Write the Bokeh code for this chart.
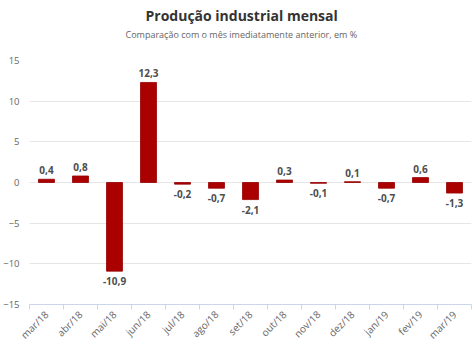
from math import pi
from bokeh.plotting import figure
from bokeh.models import Range1d, FixedTicker, Title, ColumnDataSource
from bokeh.core.properties import value
from bokeh.embed import file_html
from bokeh.resources import INLINE

months = ["mar/18", "abr/18", "mai/18", "jun/18", "jul/18", "ago/18", "set/18",
          "out/18", "nov/18", "dez/18", "jan/19", "fev/19", "mar/19"]
values = [0.4, 0.8, -10.9, 12.3, -0.2, -0.7, -2.1, 0.3, -0.1, 0.1, -0.7, 0.6, -1.3]
y_ticks = [-15, -10, -5, 0, 5, 10, 15]

FONT = "Open Sans"
x = list(range(len(months)))
labels = [f"{v:.1f}".replace(".", ",") for v in values]

src = ColumnDataSource(dict(x=x, v=values, lab=labels))
pos = ColumnDataSource(dict(x=[i for i, v in zip(x, values) if v >= 0],
                            v=[v for v in values if v >= 0],
                            lab=[l for l, v in zip(labels, values) if v >= 0]))
neg = ColumnDataSource(dict(x=[i for i, v in zip(x, values) if v < 0],
                            v=[v for v in values if v < 0],
                            lab=[l for l, v in zip(labels, values) if v < 0]))

W, H = 474, 349
p = figure(width=W, height=H, output_backend="svg", toolbar_location=None,
           title=None,
           x_range=Range1d(-0.5, len(months) - 0.5), y_range=Range1d(-15, 15),
           min_border_left=27, min_border_right=3, min_border_top=60,
           min_border_bottom=44)
p.outline_line_color = None
p.background_fill_color = "white"
p.border_fill_color = "white"

# spacer between the frame and the subtitle
p.add_layout(Title(text=" ", text_font=FONT, text_font_size="1px", standoff=17), "above")
p.add_layout(Title(text="Comparação com o mês imediatamente anterior, em %",
                   text_font=FONT, text_font_size="9px", text_font_style="normal",
                   text_color="#666666", align="left", offset=96, standoff=0), "above")
p.add_layout(Title(text="Produção industrial mensal",
                   text_font=FONT, text_font_size="14px", text_font_style="bold",
                   text_color="#333333", align="left", offset=116, standoff=2), "above")

p.vbar(x="x", top="v", bottom=0, width=0.47, source=src,
       fill_color="#ab0000", line_color="#950000", line_width=0.8)

p.text(x="x", y="v", text="lab", source=pos, text_font=value(FONT),
       text_font_size="10px", text_font_style="bold", text_color="#4d4d4d",
       text_align="center", text_baseline="bottom", y_offset=-5)
p.text(x="x", y="v", text="lab", source=neg, text_font=value(FONT),
       text_font_size="10px", text_font_style="bold", text_color="#4d4d4d",
       text_align="center", text_baseline="top", y_offset=6)

p.xgrid.grid_line_color = None
p.ygrid.ticker = FixedTicker(ticks=y_ticks)
p.ygrid.grid_line_color = "#e6e6e6"

p.yaxis.ticker = FixedTicker(ticks=y_ticks)
p.yaxis.axis_line_color = None
p.yaxis.major_tick_line_color = None
p.yaxis.major_tick_in = 0
p.yaxis.major_tick_out = 0
p.yaxis.minor_tick_line_color = None
p.yaxis.major_label_text_font = FONT
p.yaxis.major_label_text_font_size = "9.5px"
p.yaxis.major_label_text_color = "#666666"
p.yaxis.major_label_standoff = 10

p.xaxis.ticker = FixedTicker(ticks=x, minor_ticks=[i - 0.5 for i in range(len(months) + 1)])
p.xaxis.major_label_overrides = {i: m for i, m in zip(x, months)}
p.xaxis.major_label_orientation = pi / 4
p.xaxis.major_tick_line_color = None
p.xaxis.major_tick_in = 0
p.xaxis.major_tick_out = 0
p.xaxis.minor_tick_line_color = "#ccd6eb"
p.xaxis.minor_tick_in = 0
p.xaxis.minor_tick_out = 5
p.xaxis.axis_line_color = "#ccd6eb"
p.xaxis.major_label_text_font = FONT
p.xaxis.major_label_text_font_size = "10px"
p.xaxis.major_label_text_color = "#666666"
p.xaxis.major_label_standoff = 3

open("out.html", "w").write(file_html(p, INLINE))
